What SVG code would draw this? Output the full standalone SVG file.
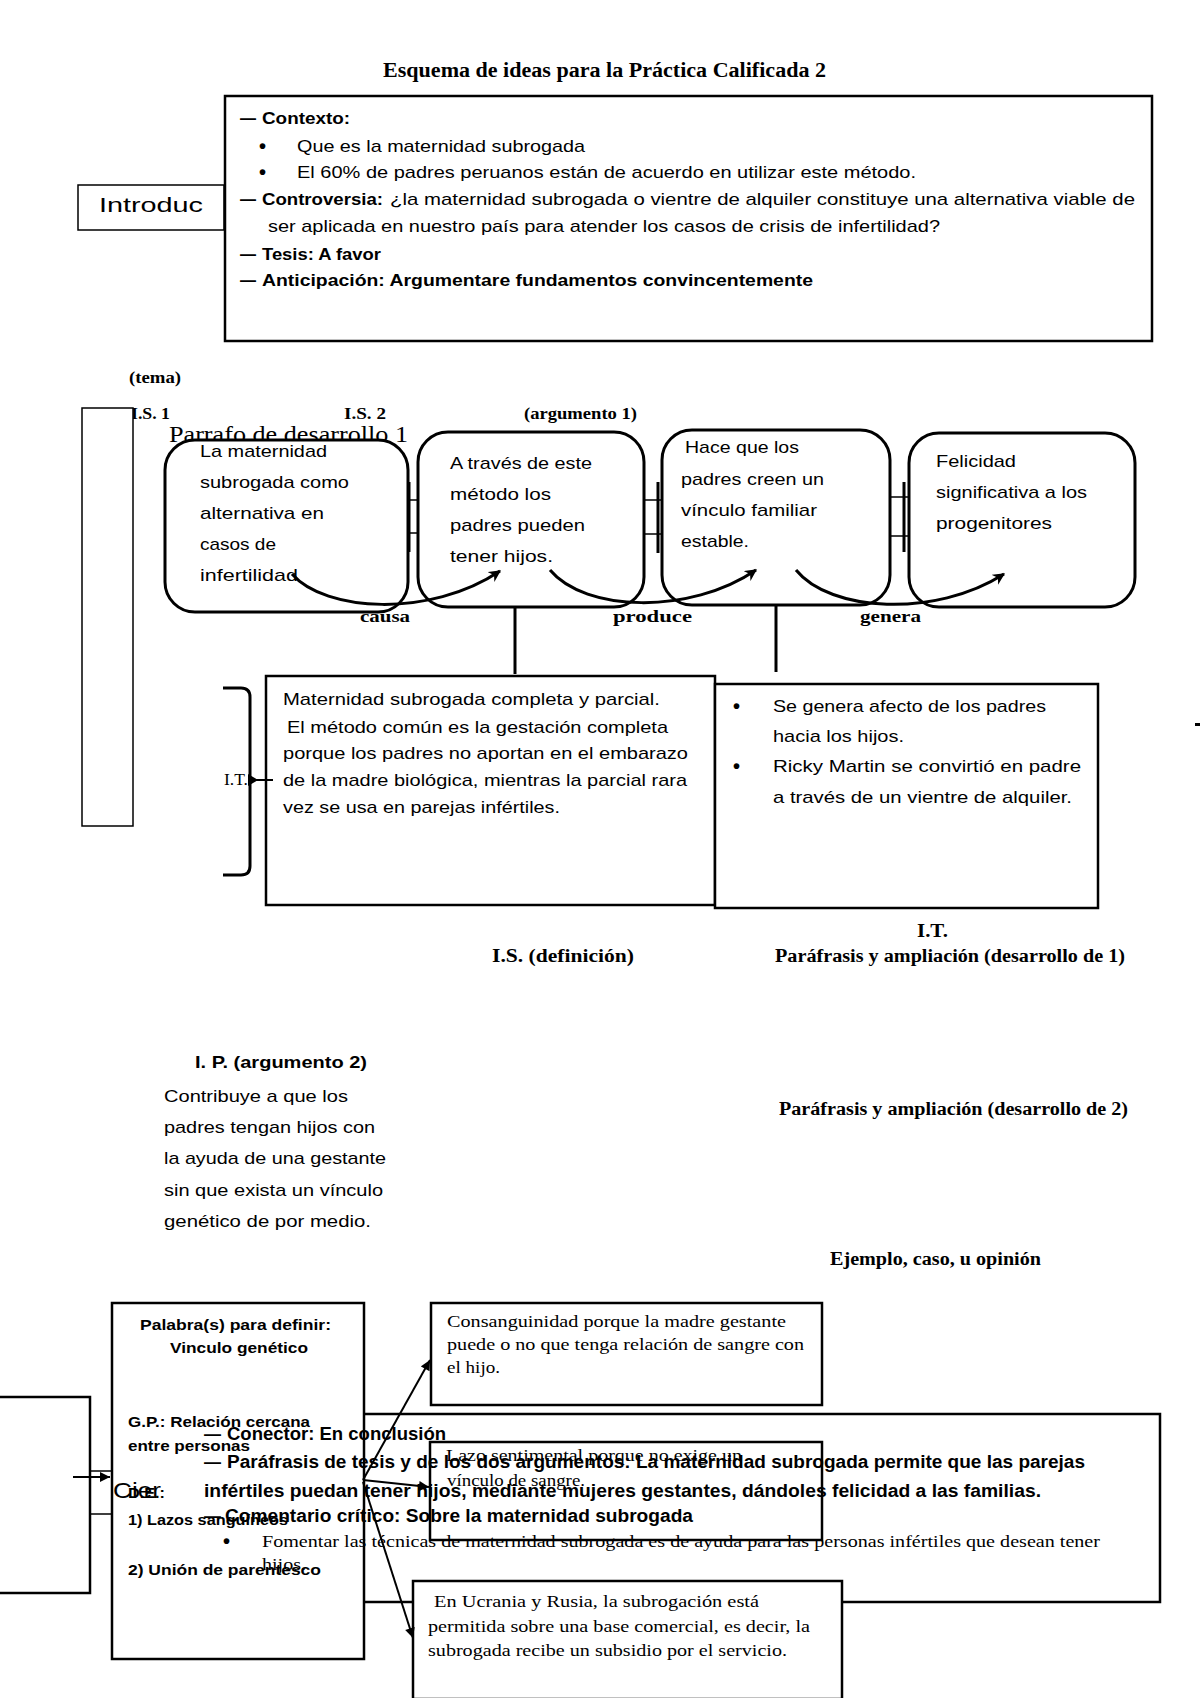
<svg xmlns="http://www.w3.org/2000/svg" width="1200" height="1698" viewBox="0 0 1200 1698">
<defs>
<style>
.sf{font-family:"Liberation Serif","Times New Roman",serif;fill:#000}
.sfb{font-family:"Liberation Serif","Times New Roman",serif;font-weight:bold;fill:#000}
.ss{font-family:"Liberation Sans",Arial,sans-serif;fill:#000}
.ssb{font-family:"Liberation Sans",Arial,sans-serif;font-weight:bold;fill:#000}
.bul{font-family:"Liberation Sans",Arial,sans-serif;font-weight:bold;font-size:20px;fill:#000}
.box{fill:#fff;stroke:#000;stroke-width:2.5}
.thin{fill:#fff;stroke:#000;stroke-width:1.5}
.rb{fill:#fff;stroke:#000;stroke-width:3}
.ln{fill:none;stroke:#000;stroke-width:3}
.ln2{fill:none;stroke:#000;stroke-width:2}
.ln1{fill:none;stroke:#000;stroke-width:1.5}
</style>
<marker id="ah" viewBox="0 0 10 10" refX="9" refY="5" markerWidth="4" markerHeight="4" orient="auto" markerUnits="strokeWidth"><path d="M0,0 L10,5 L0,10 L3,5 z" fill="#000"/></marker>
<marker id="tri" viewBox="0 0 10 10" refX="10" refY="5" markerWidth="6" markerHeight="5" orient="auto" markerUnits="strokeWidth"><path d="M0,0 L10,5 L0,10 z" fill="#000"/></marker>
</defs>
<rect width="1200" height="1698" fill="#fff"/>

<text class="sfb" x="383" y="77" font-size="20" textLength="443" lengthAdjust="spacingAndGlyphs">Esquema de ideas para la Práctica Calificada 2</text>

<g id="intro-label">
<rect class="thin" x="78" y="185" width="146" height="45"/>
<text class="ss" x="99" y="212" font-size="20" textLength="104" lengthAdjust="spacingAndGlyphs">Introduc</text>
</g>

<g id="intro">
<rect class="box" x="225" y="96" width="927" height="245"/>
<text class="ssb" x="240" y="124" font-size="17" textLength="16" lengthAdjust="spacingAndGlyphs">—</text>
<text class="ssb" x="262" y="124" font-size="17" textLength="88" lengthAdjust="spacingAndGlyphs">Contexto:</text>
<text class="bul" x="259" y="153">•</text>
<text class="ss" x="297" y="152" font-size="17" textLength="288" lengthAdjust="spacingAndGlyphs">Que es la maternidad subrogada</text>
<text class="bul" x="259" y="179">•</text>
<text class="ss" x="297" y="178" font-size="17" textLength="619" lengthAdjust="spacingAndGlyphs">El 60% de padres peruanos están de acuerdo en utilizar este método.</text>
<text class="ssb" x="240" y="205" font-size="17" textLength="16" lengthAdjust="spacingAndGlyphs">—</text>
<text class="ssb" x="262" y="205" font-size="17" textLength="121" lengthAdjust="spacingAndGlyphs">Controversia:</text>
<text class="ss" x="390" y="205" font-size="17" textLength="745" lengthAdjust="spacingAndGlyphs">¿la maternidad subrogada o vientre de alquiler constituye una alternativa viable de</text>
<text class="ss" x="268" y="232" font-size="17" textLength="672" lengthAdjust="spacingAndGlyphs">ser aplicada en nuestro país para atender los casos de crisis de infertilidad?</text>
<text class="ssb" x="240" y="260" font-size="17" textLength="16" lengthAdjust="spacingAndGlyphs">—</text>
<text class="ssb" x="262" y="260" font-size="17" textLength="119" lengthAdjust="spacingAndGlyphs">Tesis: A favor</text>
<text class="ssb" x="240" y="286" font-size="17" textLength="16" lengthAdjust="spacingAndGlyphs">—</text>
<text class="ssb" x="262" y="286" font-size="17" textLength="551" lengthAdjust="spacingAndGlyphs">Anticipación: Argumentare fundamentos convincentemente</text>
</g>

<g id="labels-top">
<text class="sfb" x="129" y="383" font-size="16" textLength="52" lengthAdjust="spacingAndGlyphs">(tema)</text>
<text class="sfb" x="131" y="419" font-size="17" textLength="39" lengthAdjust="spacingAndGlyphs">I.S. 1</text>
<text class="sfb" x="344" y="419" font-size="17" textLength="42" lengthAdjust="spacingAndGlyphs">I.S. 2</text>
<text class="sfb" x="524" y="419" font-size="17" textLength="113" lengthAdjust="spacingAndGlyphs">(argumento 1)</text>
<text class="sf" x="169" y="442" font-size="24" textLength="239" lengthAdjust="spacingAndGlyphs">Parrafo de desarrollo 1</text>
<text class="sfb" x="360" y="622" font-size="17" textLength="50" lengthAdjust="spacingAndGlyphs">causa</text>
<text class="sfb" x="613" y="622" font-size="17" textLength="79" lengthAdjust="spacingAndGlyphs">produce</text>
<text class="sfb" x="860" y="622" font-size="17" textLength="61" lengthAdjust="spacingAndGlyphs">genera</text>
</g>

<g id="tema-bar">
<rect class="thin" x="82" y="408" width="51" height="418" fill="none"/>
</g>

<g id="box1">
<rect class="rb" x="165" y="440" width="243" height="172" rx="30"/>
<text class="ss" x="200" y="457" font-size="17" textLength="127" lengthAdjust="spacingAndGlyphs">La maternidad</text>
<text class="ss" x="200" y="488" font-size="17" textLength="149" lengthAdjust="spacingAndGlyphs">subrogada como</text>
<text class="ss" x="200" y="519" font-size="17" textLength="124" lengthAdjust="spacingAndGlyphs">alternativa en</text>
<text class="ss" x="200" y="550" font-size="17" textLength="76" lengthAdjust="spacingAndGlyphs">casos de</text>
<text class="ss" x="200" y="581" font-size="17" textLength="98" lengthAdjust="spacingAndGlyphs">infertilidad</text>
</g>
<g id="box2">
<rect class="rb" x="418" y="432" width="226" height="175" rx="30"/>
<text class="ss" x="450" y="469" font-size="17" textLength="142" lengthAdjust="spacingAndGlyphs">A través de este</text>
<text class="ss" x="450" y="500" font-size="17" textLength="101" lengthAdjust="spacingAndGlyphs">método los</text>
<text class="ss" x="450" y="531" font-size="17" textLength="135" lengthAdjust="spacingAndGlyphs">padres pueden</text>
<text class="ss" x="450" y="562" font-size="17" textLength="103" lengthAdjust="spacingAndGlyphs">tener hijos.</text>
</g>
<g id="box3">
<rect class="rb" x="662" y="430" width="228" height="175" rx="30"/>
<text class="ss" x="685" y="453" font-size="17" textLength="114" lengthAdjust="spacingAndGlyphs">Hace que los</text>
<text class="ss" x="681" y="485" font-size="17" textLength="143" lengthAdjust="spacingAndGlyphs">padres creen un</text>
<text class="ss" x="681" y="516" font-size="17" textLength="136" lengthAdjust="spacingAndGlyphs">vínculo familiar</text>
<text class="ss" x="681" y="547" font-size="17" textLength="68" lengthAdjust="spacingAndGlyphs">estable.</text>
</g>
<g id="box4">
<rect class="rb" x="909" y="433" width="226" height="174" rx="30"/>
<text class="ss" x="936" y="467" font-size="17" textLength="80" lengthAdjust="spacingAndGlyphs">Felicidad</text>
<text class="ss" x="936" y="498" font-size="17" textLength="151" lengthAdjust="spacingAndGlyphs">significativa a los</text>
<text class="ss" x="936" y="529" font-size="17" textLength="116" lengthAdjust="spacingAndGlyphs">progenitores</text>
</g>

<g id="boxA">
<rect class="box" x="266" y="676" width="449" height="229"/>
<text class="ss" x="283" y="705" font-size="17" textLength="377" lengthAdjust="spacingAndGlyphs">Maternidad subrogada completa y parcial.</text>
<text class="ss" x="287" y="733" font-size="17" textLength="381" lengthAdjust="spacingAndGlyphs">El método común es la gestación completa</text>
<text class="ss" x="283" y="759" font-size="17" textLength="405" lengthAdjust="spacingAndGlyphs">porque los padres no aportan en el embarazo</text>
<text class="ss" x="283" y="786" font-size="17" textLength="404" lengthAdjust="spacingAndGlyphs">de la madre biológica, mientras la parcial rara</text>
<text class="ss" x="283" y="813" font-size="17" textLength="277" lengthAdjust="spacingAndGlyphs">vez se usa en parejas infértiles.</text>
</g>
<g id="boxB">
<rect class="box" x="715" y="684" width="383" height="224"/>
<text class="bul" x="733" y="713">•</text>
<text class="ss" x="773" y="712" font-size="17" textLength="273" lengthAdjust="spacingAndGlyphs">Se genera afecto de los padres</text>
<text class="ss" x="773" y="742" font-size="17" textLength="131" lengthAdjust="spacingAndGlyphs">hacia los hijos.</text>
<text class="bul" x="733" y="773">•</text>
<text class="ss" x="773" y="772" font-size="17" textLength="308" lengthAdjust="spacingAndGlyphs">Ricky Martin se convirtió en padre</text>
<text class="ss" x="773" y="803" font-size="17" textLength="299" lengthAdjust="spacingAndGlyphs">a través de un vientre de alquiler.</text>
</g>
<rect x="1195" y="723" width="5" height="3" fill="#000"/>

<g id="labels-mid">
<text class="sf" x="224" y="785" font-size="17" textLength="24" lengthAdjust="spacingAndGlyphs">I.T.</text>
<text class="sfb" x="917" y="937" font-size="18" textLength="31" lengthAdjust="spacingAndGlyphs">I.T.</text>
<text class="sfb" x="492" y="962" font-size="18" textLength="142" lengthAdjust="spacingAndGlyphs">I.S. (definición)</text>
<text class="sfb" x="775" y="962" font-size="18" textLength="350" lengthAdjust="spacingAndGlyphs">Paráfrasis y ampliación (desarrollo de 1)</text>
</g>

<g id="argumento2">
<text class="ssb" x="195" y="1068" font-size="17" textLength="172" lengthAdjust="spacingAndGlyphs">I. P. (argumento 2)</text>
<text class="ss" x="164" y="1102" font-size="17" textLength="184" lengthAdjust="spacingAndGlyphs">Contribuye a que los</text>
<text class="ss" x="164" y="1133" font-size="17" textLength="211" lengthAdjust="spacingAndGlyphs">padres tengan hijos con</text>
<text class="ss" x="164" y="1164" font-size="17" textLength="222" lengthAdjust="spacingAndGlyphs">la ayuda de una gestante</text>
<text class="ss" x="164" y="1196" font-size="17" textLength="219" lengthAdjust="spacingAndGlyphs">sin que exista un vínculo</text>
<text class="ss" x="164" y="1227" font-size="17" textLength="207" lengthAdjust="spacingAndGlyphs">genético de por medio.</text>
</g>
<text class="sfb" x="779" y="1115" font-size="18" textLength="349" lengthAdjust="spacingAndGlyphs">Paráfrasis y ampliación (desarrollo de 2)</text>
<text class="sfb" x="830" y="1265" font-size="18" textLength="211" lengthAdjust="spacingAndGlyphs">Ejemplo, caso, u opinión</text>

<g id="cierre-box">
<rect class="box" x="-5" y="1397" width="95" height="196"/>
</g>

<g id="conclusion-frame">
<rect class="box" x="190" y="1414" width="970" height="188"/>
</g>

<g id="definir">
<rect class="box" x="112" y="1303" width="252" height="356"/>
<text class="ssb" x="140" y="1330" font-size="15" textLength="191" lengthAdjust="spacingAndGlyphs">Palabra(s) para definir:</text>
<text class="ssb" x="170" y="1353" font-size="15" textLength="138" lengthAdjust="spacingAndGlyphs">Vinculo genético</text>
<text class="ssb" x="128" y="1427" font-size="15" textLength="182" lengthAdjust="spacingAndGlyphs">G.P.: Relación cercana</text>
<text class="ssb" x="128" y="1451" font-size="15" textLength="122" lengthAdjust="spacingAndGlyphs">entre personas</text>
<text class="ssb" x="128" y="1498" font-size="15" textLength="37" lengthAdjust="spacingAndGlyphs">D.E.:</text>
<text class="ssb" x="128" y="1525" font-size="15" textLength="160" lengthAdjust="spacingAndGlyphs">1) Lazos sanguíneos</text>
<text class="ssb" x="128" y="1575" font-size="15" textLength="193" lengthAdjust="spacingAndGlyphs">2) Unión de parentesco</text>
</g>
<g id="cierre-text">
<text class="ss" x="113" y="1498" font-size="22" textLength="48" lengthAdjust="spacingAndGlyphs">Cier</text>
</g>

<g id="consanguinidad">
<rect class="box" x="431" y="1303" width="391" height="102"/>
<text class="sf" x="447" y="1327" font-size="17" textLength="339" lengthAdjust="spacingAndGlyphs">Consanguinidad porque la madre gestante</text>
<text class="sf" x="447" y="1350" font-size="17" textLength="357" lengthAdjust="spacingAndGlyphs">puede o no que tenga relación de sangre con</text>
<text class="sf" x="447" y="1373" font-size="17" textLength="53" lengthAdjust="spacingAndGlyphs">el hijo.</text>
</g>

<g id="lazo">
<rect class="box" x="430" y="1442" width="392" height="98"/>
<text class="sf" x="446" y="1461" font-size="17" textLength="296" lengthAdjust="spacingAndGlyphs">Lazo sentimental porque no exige un</text>
<text class="sf" x="447" y="1486" font-size="17" textLength="138" lengthAdjust="spacingAndGlyphs">vínculo de sangre.</text>
</g>

<g id="ucrania">
<rect class="box" x="413" y="1581" width="429" height="118"/>
<text class="sf" x="434" y="1607" font-size="17" textLength="325" lengthAdjust="spacingAndGlyphs">En Ucrania y Rusia, la subrogación está</text>
<text class="sf" x="428" y="1632" font-size="17" textLength="382" lengthAdjust="spacingAndGlyphs">permitida sobre una base comercial, es decir, la</text>
<text class="sf" x="428" y="1656" font-size="17" textLength="359" lengthAdjust="spacingAndGlyphs">subrogada recibe un subsidio por el servicio.</text>
</g>

<g id="conclusion-text">
<text class="ssb" x="204" y="1440" font-size="18" textLength="17" lengthAdjust="spacingAndGlyphs">—</text>
<text class="ssb" x="227" y="1440" font-size="18" textLength="219" lengthAdjust="spacingAndGlyphs">Conector: En conclusión</text>
<text class="ssb" x="204" y="1468" font-size="18" textLength="17" lengthAdjust="spacingAndGlyphs">—</text>
<text class="ssb" x="227" y="1468" font-size="18" textLength="858" lengthAdjust="spacingAndGlyphs">Paráfrasis de tesis y de los dos argumentos: La maternidad subrogada permite que las parejas</text>
<text class="ssb" x="204" y="1497" font-size="18" textLength="837" lengthAdjust="spacingAndGlyphs">infértiles puedan tener hijos, mediante mujeres gestantes, dándoles felicidad a las familias.</text>
<text class="ssb" x="204" y="1522" font-size="18" textLength="17" lengthAdjust="spacingAndGlyphs">—</text>
<text class="ssb" x="225" y="1522" font-size="18" textLength="468" lengthAdjust="spacingAndGlyphs">Comentario crítico: Sobre la maternidad subrogada</text>
<text class="bul" x="223" y="1548">•</text>
<text class="sf" x="262" y="1547" font-size="17" textLength="838" lengthAdjust="spacingAndGlyphs">Fomentar las técnicas de maternidad subrogada es de ayuda para las personas infértiles que desean tener</text>
<text class="sf" x="262" y="1570" font-size="17" textLength="44" lengthAdjust="spacingAndGlyphs">hijos.</text>
</g>

<g id="connectors">
<path class="ln1" d="M408,500 H418 M408,533 H418"/>
<path class="ln" d="M409,482 V552"/>
<path class="ln1" d="M644,500 H662 M644,534 H662"/>
<path class="ln" d="M658,482 V553"/>
<path class="ln1" d="M890,497 H909 M890,536 H909"/>
<path class="ln" d="M904,482 V552"/>
<path class="ln" d="M292,574 C325,612 430,618 500,571" marker-end="url(#ah)"/>
<path class="ln" d="M550,570 C585,612 690,615 756,570" marker-end="url(#ah)"/>
<path class="ln" d="M796,570 C830,612 935,618 1004,574" marker-end="url(#ah)"/>
<path class="ln" d="M515,607 V674"/>
<path class="ln" d="M776,605 V672"/>
<path class="ln" d="M223,688 H241 Q250,688 250,697 V866 Q250,875 241,875 H223"/>
<path class="ln2" d="M256,780 H273"/>
<path d="M248,774 L258,780 L248,786 z" fill="#000"/>
<path class="ln1" d="M90,1471 H112 M90,1514 H112"/>
<path class="ln2" d="M73,1477 H110" marker-end="url(#tri)"/>
<path class="ln2" d="M363,1480 L430,1360" marker-end="url(#tri)"/>
<path class="ln2" d="M363,1480 L429,1487" marker-end="url(#tri)"/>
<path class="ln2" d="M363,1482 L413,1638" marker-end="url(#tri)"/>
</g>
</svg>
